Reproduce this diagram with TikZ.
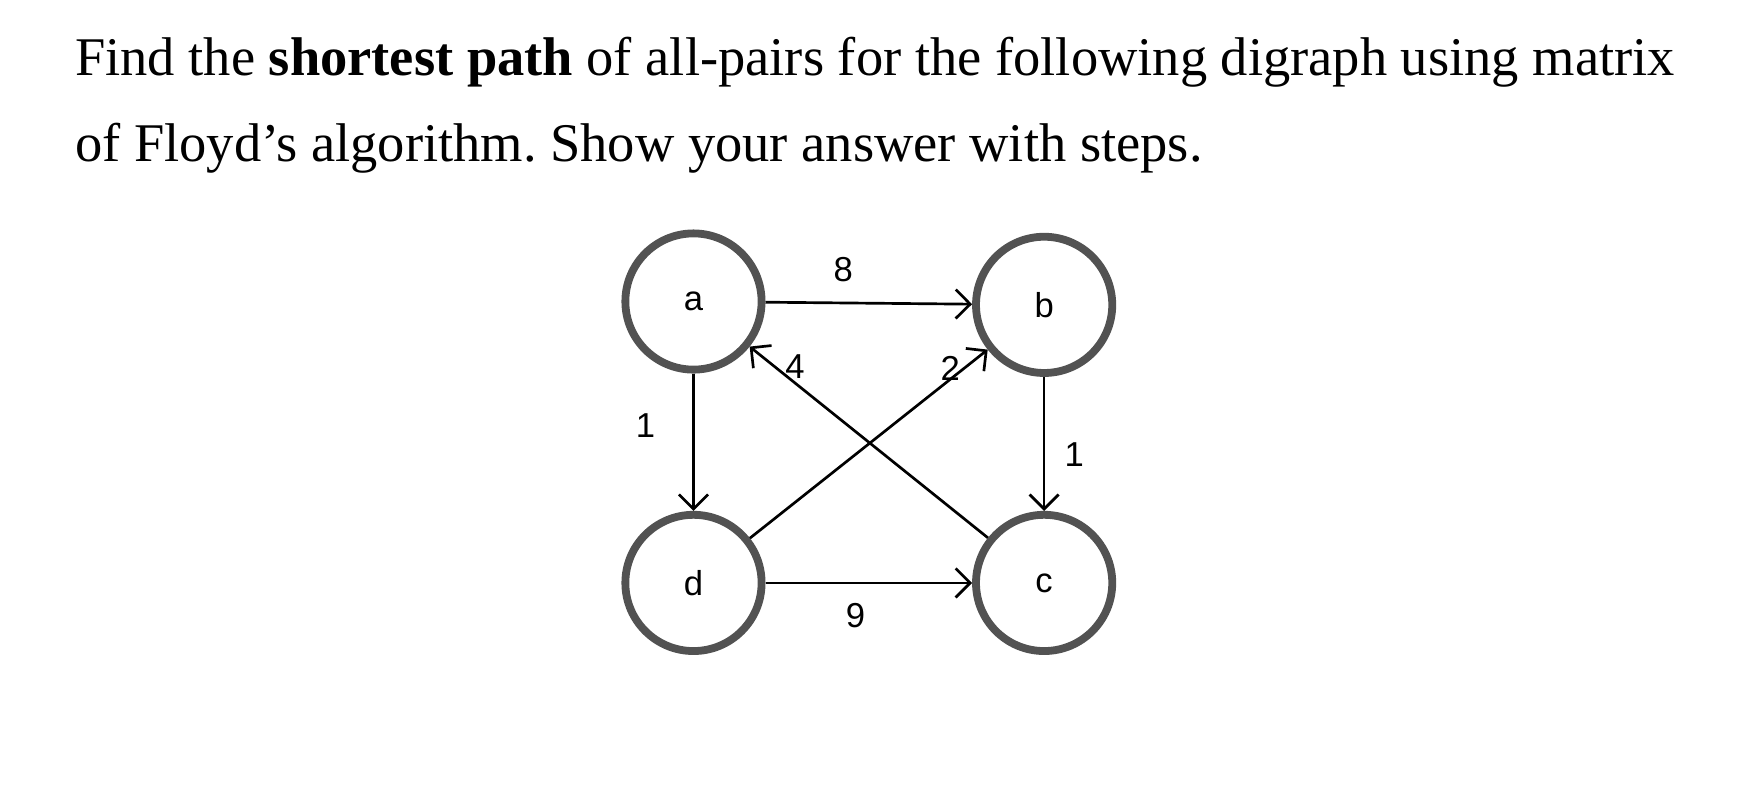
\documentclass[tikz,border=0pt]{standalone}
\usepackage{fontspec}
\setmainfont{Liberation Serif}
\newfontfamily\lsans{Liberation Sans}
\usetikzlibrary{arrows.meta}
\frenchspacing
\begin{document}
\begin{tikzpicture}[x=1pt,y=-1pt,
  vtx/.style={circle,draw=black!68,line width=7pt,minimum size=122pt,inner sep=0pt,font=\lsans\fontsize{31}{33}\selectfont},
  edge/.style={line width=2.4pt,-{Straight Barb[length=13pt,width=26pt,line width=2.4pt]}},
  wt/.style={font=\lsans\fontsize{31}{33}\selectfont,inner sep=0pt}]
\useasboundingbox (0,0) rectangle (1568,725);
\node[anchor=base west,inner sep=0pt,font=\fontsize{48.8}{52}\selectfont] (t1) at (67,68) {Find the \textbf{shortest path} of all-pairs for the following digraph using matrix};
\node[anchor=base west,inner sep=0pt,font=\fontsize{48.8}{52}\selectfont] (t2) at (67,145) {of Floyd’s algorithm. Show your answer with steps.};
\node[vtx] (a) at (621,270) {a};
\node[vtx] (b) at (935,273) {b};
\node[vtx] (d) at (621,522) {d};
\node[vtx] (c) at (935,522) {c};
\draw[edge] (a) -- (b);
\draw[edge] (a) -- (d);
\draw[edge] (b) -- (c);
\draw[edge] (d) -- (c);
\draw[edge] (d) -- (b);
\draw[edge] (c) -- (a);
\node[wt] (w8) at (755,241) {8};
\node[wt] (w4) at (712,328) {4};
\node[wt] (w2) at (851,330) {2};
\node[wt] (w1a) at (578,381) {1};
\node[wt] (w1b) at (962,407) {1};
\node[wt] (w9) at (766,551) {9};
\end{tikzpicture}
\end{document}
